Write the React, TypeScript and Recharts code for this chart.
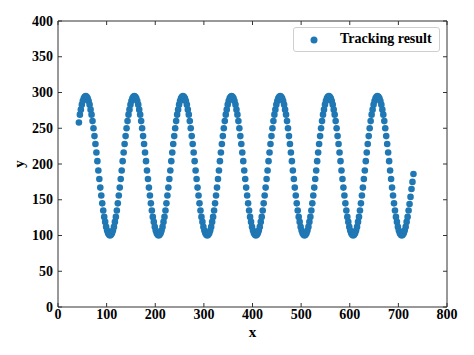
import React from 'react';
import { ScatterChart, Scatter, XAxis, YAxis, Legend, Label } from 'recharts';

const seriesName = 'Tracking result';
const xTicks = [0, 100, 200, 300, 400, 500, 600, 700, 800];
const yTicks = [0, 50, 100, 150, 200, 250, 300, 350, 400];

const xValues = [
  43, 45, 47, 49, 51, 53, 55,
  57, 59, 61, 63, 65, 67, 69, 71, 73, 75, 77, 79, 81, 83, 85, 87, 89, 91, 93, 95, 97, 99, 101, 103, 105, 107, 109, 111, 113, 115, 117, 119, 121, 123, 125, 127, 129, 131, 133, 135, 137, 139, 141, 143, 145, 147, 149, 151, 153, 155,
  157, 159, 161, 163, 165, 167, 169, 171, 173, 175, 177, 179, 181, 183, 185, 187, 189, 191, 193, 195, 197, 199, 201, 203, 205, 207, 209, 211, 213, 215, 217, 219, 221, 223, 225, 227, 229, 231, 233, 235, 237, 239, 241, 243, 245, 247, 249, 251, 253, 255,
  257, 259, 261, 263, 265, 267, 269, 271, 273, 275, 277, 279, 281, 283, 285, 287, 289, 291, 293, 295, 297, 299, 301, 303, 305, 307, 309, 311, 313, 315, 317, 319, 321, 323, 325, 327, 329, 331, 333, 335, 337, 339, 341, 343, 345, 347, 349, 351, 353, 355,
  357, 359, 361, 363, 365, 367, 369, 371, 373, 375, 377, 379, 381, 383, 385, 387, 389, 391, 393, 395, 397, 399, 401, 403, 405, 407, 409, 411, 413, 415, 417, 419, 421, 423, 425, 427, 429, 431, 433, 435, 437, 439, 441, 443, 445, 447, 449, 451, 453, 455,
  457, 459, 461, 463, 465, 467, 469, 471, 473, 475, 477, 479, 481, 483, 485, 487, 489, 491, 493, 495, 497, 499, 501, 503, 505, 507, 509, 511, 513, 515, 517, 519, 521, 523, 525, 527, 529, 531, 533, 535, 537, 539, 541, 543, 545, 547, 549, 551, 553, 555,
  557, 559, 561, 563, 565, 567, 569, 571, 573, 575, 577, 579, 581, 583, 585, 587, 589, 591, 593, 595, 597, 599, 601, 603, 605, 607, 609, 611, 613, 615, 617, 619, 621, 623, 625, 627, 629, 631, 633, 635, 637, 639, 641, 643, 645, 647, 649, 651, 653, 655,
  657, 659, 661, 663, 665, 667, 669, 671, 673, 675, 677, 679, 681, 683, 685, 687, 689, 691, 693, 695, 697, 699, 701, 703, 705, 707, 709, 711, 713, 715, 717, 719, 721, 723, 725, 727, 729, 731,
];

const yValues = [
  258, 269, 276, 283, 288, 292, 294,
  295, 294, 292, 288, 283, 276, 269, 260, 250, 239, 228, 216, 204, 191, 179, 167, 156, 145, 135, 126, 119, 112, 107, 103, 101, 100, 101, 103, 107, 112, 119, 126, 135, 145, 156, 167, 179, 191, 204, 216, 228, 239, 250, 260, 269, 276, 283, 288, 292, 294,
  295, 294, 292, 288, 283, 276, 269, 260, 250, 239, 228, 216, 204, 191, 179, 167, 156, 145, 135, 126, 119, 112, 107, 103, 101, 100, 101, 103, 107, 112, 119, 126, 135, 145, 156, 167, 179, 191, 204, 216, 228, 239, 250, 260, 269, 276, 283, 288, 292, 294,
  295, 294, 292, 288, 283, 276, 269, 260, 250, 239, 228, 216, 204, 191, 179, 167, 156, 145, 135, 126, 119, 112, 107, 103, 101, 100, 101, 103, 107, 112, 119, 126, 135, 145, 156, 167, 179, 191, 204, 216, 228, 239, 250, 260, 269, 276, 283, 288, 292, 294,
  295, 294, 292, 288, 283, 276, 269, 260, 250, 239, 228, 216, 204, 191, 179, 167, 156, 145, 135, 126, 119, 112, 107, 103, 101, 100, 101, 103, 107, 112, 119, 126, 135, 145, 156, 167, 179, 191, 204, 216, 228, 239, 250, 260, 269, 276, 283, 288, 292, 294,
  295, 294, 292, 288, 283, 276, 269, 260, 250, 239, 228, 216, 204, 191, 179, 167, 156, 145, 135, 126, 119, 112, 107, 103, 101, 100, 101, 103, 107, 112, 119, 126, 135, 145, 156, 167, 179, 191, 204, 216, 228, 239, 250, 260, 269, 276, 283, 288, 292, 294,
  295, 294, 292, 288, 283, 276, 269, 260, 250, 239, 228, 216, 204, 191, 179, 167, 156, 145, 135, 126, 119, 112, 107, 103, 101, 100, 101, 103, 107, 112, 119, 126, 135, 145, 156, 167, 179, 191, 204, 216, 228, 239, 250, 260, 269, 276, 283, 288, 292, 294,
  295, 294, 292, 288, 283, 276, 269, 260, 250, 239, 228, 216, 204, 191, 179, 167, 156, 145, 135, 126, 119, 112, 107, 103, 101, 100, 101, 103, 107, 112, 119, 126, 135, 144, 154, 165, 175, 186,
];

const data = xValues.map((x, i) => ({ x, y: yValues[i] }));

const FONT = '"Liberation Serif", "Times New Roman", serif';
const BLUE = '#1f77b4';
const AXIS = '#333333';
const TICK_LEN = 4;

const renderDot = (props: any) => (
  <circle cx={props.cx} cy={props.cy} r={3.3} fill={BLUE} />
);

const BottomTick = (props: any) => {
  const { x, y, payload } = props;
  return (
    <g>
      <line x1={x} y1={y} x2={x} y2={y - TICK_LEN} stroke={AXIS} strokeWidth={1} />
      <text x={x} y={y + 12} textAnchor="middle" fontFamily={FONT} fontWeight="bold" fontSize={14} fill="#000">
        {payload.value}
      </text>
    </g>
  );
};

const LeftTick = (props: any) => {
  const { x, y, payload } = props;
  return (
    <g>
      <line x1={x} y1={y} x2={x + TICK_LEN} y2={y} stroke={AXIS} strokeWidth={1} />
      <text x={x - 5} y={y + 4.6} textAnchor="end" fontFamily={FONT} fontWeight="bold" fontSize={14} fill="#000">
        {payload.value}
      </text>
    </g>
  );
};

const TopTick = (props: any) => {
  const { x, y } = props;
  return <line x1={x} y1={y} x2={x} y2={y + TICK_LEN} stroke={AXIS} strokeWidth={1} />;
};

const RightTick = (props: any) => {
  const { x, y } = props;
  return <line x1={x} y1={y} x2={x - TICK_LEN} y2={y} stroke={AXIS} strokeWidth={1} />;
};

const renderLegend = () => (
  <div
    style={{
      width: 147,
      height: 25,
      boxSizing: 'border-box',
      border: '1px solid #cfcfcf',
      borderRadius: 3,
      background: '#fff',
      position: 'relative',
      fontFamily: FONT,
      fontWeight: 'bold',
      fontSize: 14,
      color: '#000',
    }}
  >
    <svg width={10} height={10} style={{ position: 'absolute', left: 15, top: 7 }}>
      <circle cx={5} cy={5} r={3.5} fill={BLUE} />
    </svg>
    <span style={{ position: 'absolute', left: 46, top: 3, whiteSpace: 'nowrap', lineHeight: '16px' }}>
      {seriesName}
    </span>
  </div>
);

const renderYLabel = (props: any) => {
  const vb = props.viewBox || { x: 0, y: 21, width: 58, height: 286 };
  const cx = vb.x + 24;
  const cy = vb.y + vb.height / 2;
  return (
    <text
      x={cx}
      y={cy}
      transform={`rotate(-90, ${cx}, ${cy})`}
      textAnchor="middle"
      fontFamily={FONT}
      fontWeight="bold"
      fontSize={15}
      fill="#000"
    >
      y
    </text>
  );
};

export default function App() {
  return (
    <div style={{ position: 'absolute', left: 0, top: 0, width: 474, height: 355, background: '#fff' }}>
      <ScatterChart width={474} height={355} margin={{ top: 20, right: 26, bottom: 0, left: 0 }}>
        <XAxis
          xAxisId="b"
          dataKey="x"
          type="number"
          orientation="bottom"
          domain={[0, 800]}
          ticks={xTicks}
          interval={0}
          allowDataOverflow
          height={48}
          tickSize={0}
          tickMargin={0}
          tickLine={false}
          stroke={AXIS}
          tick={BottomTick}
        >
          <Label
            value="x"
            position="insideBottom"
            offset={18}
            style={{ fontFamily: FONT, fontWeight: 'bold', fontSize: 15, fill: '#000' }}
          />
        </XAxis>
        <XAxis
          xAxisId="t"
          dataKey="x"
          type="number"
          orientation="top"
          domain={[0, 800]}
          ticks={xTicks}
          interval={0}
          allowDataOverflow
          height={1}
          tickSize={0}
          tickMargin={0}
          tickLine={false}
          stroke={AXIS}
          tick={TopTick}
        />
        <YAxis
          yAxisId="l"
          dataKey="y"
          type="number"
          orientation="left"
          domain={[0, 400]}
          ticks={yTicks}
          interval={0}
          allowDataOverflow
          width={58}
          tickSize={0}
          tickMargin={0}
          tickLine={false}
          stroke={AXIS}
          tick={LeftTick}
        >
          <Label content={renderYLabel} />
        </YAxis>
        <YAxis
          yAxisId="r"
          dataKey="y"
          type="number"
          orientation="right"
          domain={[0, 400]}
          ticks={yTicks}
          interval={0}
          allowDataOverflow
          width={1}
          tickSize={0}
          tickMargin={0}
          tickLine={false}
          stroke={AXIS}
          tick={RightTick}
        />
        <Legend
          layout="vertical"
          align="center"
          verticalAlign="middle"
          wrapperStyle={{ top: 27, left: 293, width: 147, height: 25 }}
          content={renderLegend}
        />
        <Scatter
          xAxisId="b"
          yAxisId="l"
          name={seriesName}
          data={data}
          fill={BLUE}
          shape={renderDot}
          isAnimationActive={false}
        />
        <Scatter
          xAxisId="t"
          yAxisId="r"
          data={data}
          legendType="none"
          shape={() => <g />}
          isAnimationActive={false}
        />
      </ScatterChart>
    </div>
  );
}
